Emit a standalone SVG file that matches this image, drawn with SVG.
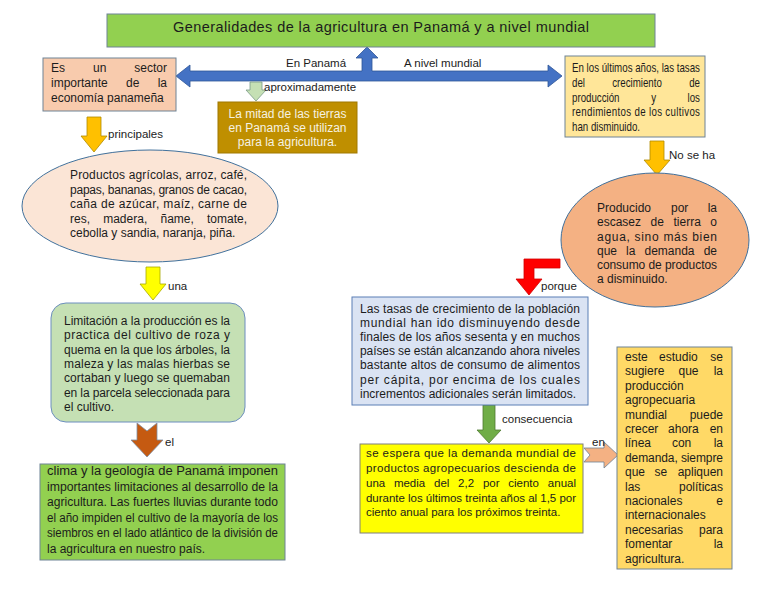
<svg xmlns="http://www.w3.org/2000/svg" width="768" height="594" viewBox="0 0 768 594">
<style>
text{font-family:"Liberation Sans",Arial,Helvetica,sans-serif;font-size:12px;fill:#1c1c1c}
.s{font-size:11.5px}
.lb{font-size:11.5px}
.w{fill:#f6f2e2}
.e{text-anchor:end}
.m{text-anchor:middle}
.bx{stroke:#6f8396;stroke-width:1}
.ar{stroke-width:0.8}
</style>
<rect width="768" height="594" fill="#ffffff"/>

<g id="connectors">
<polygon class="ar" fill="#4472c4" stroke="#2f5597" points="176,76 190,65 190,71 362,71 362,58 356,58 367,47 378,58 372,58 372,71 548,71 548,65 562,76 548,87 548,81 190,81 190,87"/>
<polygon class="ar" fill="#c5e0b4" stroke="#7a9a88" points="250,82 262,82 262,90 266,90 256,101 246,90 250,90"/>
<polygon class="ar" fill="#ffc000" stroke="#b08a00" points="87,117 101,117 101,136 107,136 94,152 81,136 87,136"/>
<polygon class="ar" fill="#ffff00" stroke="#a8a800" points="146,267 160,267 160,284 166,284 153,300 140,284 146,284"/>
<polygon class="ar" fill="#ffc000" stroke="#b08a00" points="650,141 664,141 664,160 670,160 657,175 644,160 650,160"/>
<polygon class="ar" fill="#c55a11" stroke="#7f8fa6" points="137,423 147,431 157,423 157,440 163,440 147,457 131,440 137,440"/>
<polygon class="ar" fill="#ff0000" stroke="#d00000" points="524,259 560,259 560,268 534,268 534,279 542,279 529,295 516,279 524,279"/>
<polygon class="ar" fill="#70ad47" stroke="#4e7a31" points="483,405 495,405 495,430 501,430 489,443 477,430 483,430"/>
<polygon class="ar" fill="#f4b183" stroke="#6f8396" points="584,448 604,448 604,442 618,455 604,468 604,462 584,462 590,455"/>
<text class="lb" x="286" y="67">En Panamá</text>
<text class="lb" x="404" y="67">A nivel mundial</text>
<text class="lb" x="264" y="91">aproximadamente</text>
<text class="lb" x="108" y="138">principales</text>
<text class="lb" x="669" y="159">No se ha</text>
<text class="lb" x="168" y="290">una</text>
<text class="lb" x="165" y="446">el</text>
<text class="lb" x="541" y="290">porque</text>
<text class="lb" x="502" y="423">consecuencia</text>
<text class="lb" x="592" y="446">en</text>
</g>

<g id="title">
<rect class="bx" x="107" y="14" width="548" height="33" fill="#92d050"/>
<text x="173" y="32" style="font-size:14.5px" textLength="416" lengthAdjust="spacing">Generalidades de la agricultura en Panamá y a nivel mundial</text>
</g>

<g id="sector">
<rect class="bx" x="43" y="58" width="133" height="53" fill="#f8cbad"/>
<text x="51" y="72">Es</text><text x="93" y="72">un</text><text class="e" x="167" y="72">sector</text>
<text x="51" y="87">importante</text><text x="126" y="87">de</text><text class="e" x="167" y="87">la</text>
<text x="51" y="102">economía panameña</text>
</g>

<g id="mitad">
<rect x="218" y="102" width="139" height="51" fill="#bf8f00" stroke="#a07800"/>
<text class="w m" x="287.5" y="118">La mitad de las tierras</text>
<text class="w m" x="287.5" y="132">en Panamá se utilizan</text>
<text class="w m" x="287.5" y="146">para la agricultura.</text>
</g>

<g id="tasas">
<rect class="bx" x="565" y="56" width="140" height="81" fill="#ffe699"/>
<g transform="matrix(0.81 0 0 1 108.68 0)">
<text x="572" y="72" textLength="158" lengthAdjust="spacing">En los últimos años, las tasas</text>
<text x="572" y="87">del</text><text x="621.6" y="87">crecimiento</text><text class="e" x="730" y="87">de</text>
<text x="572" y="102">producción</text><text x="669.7" y="102">y</text><text class="e" x="730" y="102">los</text>
<text x="572" y="116" textLength="158" lengthAdjust="spacing">rendimientos de los cultivos</text>
<text x="572" y="131">han disminuido.</text>
</g>
</g>

<g id="productos">
<ellipse cx="150" cy="206" rx="128" ry="56" fill="#fbe5d6" stroke="#41719c"/>
<text x="70" y="179" textLength="177" lengthAdjust="spacing">Productos agrícolas, arroz, café,</text>
<text x="70" y="194" textLength="177" lengthAdjust="spacing">papas, bananas, granos de cacao,</text>
<text x="70" y="208" textLength="177" lengthAdjust="spacing">caña de azúcar, maíz, carne de</text>
<text x="70" y="223">res,</text><text x="103.2" y="223">madera,</text><text x="160.5" y="223">ñame,</text><text class="e" x="247" y="223">tomate,</text>
<text x="70" y="237">cebolla y sandia, naranja, piña.</text>
</g>

<g id="producido">
<ellipse cx="655" cy="240" rx="94" ry="67" fill="#f4b183" stroke="#41719c"/>
<text x="597" y="212">Producido</text><text x="671" y="212">por</text><text class="e" x="717" y="212">la</text>
<text x="597" y="226">escasez</text><text x="650.6" y="226">de</text><text x="673.5" y="226">tierra</text><text class="e" x="717" y="226">o</text>
<text x="597" y="241" textLength="120" lengthAdjust="spacing">agua, sino más bien</text>
<text x="597" y="255">que</text><text x="626.1" y="255">la</text><text x="644.5" y="255">demanda</text><text class="e" x="717" y="255">de</text>
<text x="597" y="269" textLength="120" lengthAdjust="spacing">consumo de productos</text>
<text x="597" y="283">a disminuido.</text>
</g>

<g id="limitacion">
<rect x="51" y="303" width="194" height="119" rx="15" fill="#c5e0b4" stroke="#6c8ebf"/>
<text x="64" y="325" textLength="166" lengthAdjust="spacing">Limitación a la producción es la</text>
<text x="64" y="339.3" textLength="166" lengthAdjust="spacing">practica del cultivo de roza y</text>
<text x="64" y="353.6" textLength="166" lengthAdjust="spacing">quema en la que los árboles, la</text>
<text x="64" y="368" textLength="166" lengthAdjust="spacing">maleza y las malas hierbas se</text>
<text x="64" y="382.3" textLength="166" lengthAdjust="spacing">cortaban y luego se quemaban</text>
<text x="64" y="396.6" textLength="166" lengthAdjust="spacing">en la parcela seleccionada para</text>
<text x="64" y="411">el cultivo.</text>
</g>

<g id="clima">
<rect class="bx" x="40" y="464" width="245" height="96" fill="#92d050"/>
<text x="47" y="475" textLength="231" lengthAdjust="spacingAndGlyphs">clima y la geología de Panamá imponen</text>
<text x="47" y="490.5" textLength="231" lengthAdjust="spacingAndGlyphs">importantes limitaciones al desarrollo de la</text>
<text x="47" y="506" textLength="231" lengthAdjust="spacingAndGlyphs">agricultura. Las fuertes lluvias durante todo</text>
<text x="47" y="521.5" textLength="231" lengthAdjust="spacingAndGlyphs">el año impiden el cultivo de la mayoría de los</text>
<text x="47" y="537" textLength="231" lengthAdjust="spacingAndGlyphs">siembros en el lado atlántico de la división de</text>
<text x="47" y="552.5">la agricultura en nuestro país.</text>
</g>

<g id="poblacion">
<rect x="352" y="297" width="236" height="108" fill="#dae3f3" stroke="#5b7fb5"/>
<text x="360" y="312.5" textLength="220" lengthAdjust="spacing">Las tasas de crecimiento de la población</text>
<text x="360" y="326.7" textLength="220" lengthAdjust="spacing">mundial han ido disminuyendo desde</text>
<text x="360" y="340.9" textLength="220" lengthAdjust="spacing">finales de los años sesenta y en muchos</text>
<text x="360" y="355.1" textLength="220" lengthAdjust="spacing">países se están alcanzando ahora niveles</text>
<text x="360" y="369.3" textLength="220" lengthAdjust="spacing">bastante altos de consumo de alimentos</text>
<text x="360" y="383.5" textLength="220" lengthAdjust="spacing">per cápita, por encima de los cuales</text>
<text x="360" y="397.7">incrementos adicionales serán limitados.</text>
</g>

<g id="demanda">
<rect x="360" y="444" width="223" height="89" fill="#ffff00" stroke="#7f7f7f"/>
<text class="s" x="366" y="457" textLength="210" lengthAdjust="spacing">se espera que la demanda mundial de</text>
<text class="s" x="366" y="472" textLength="210" lengthAdjust="spacing">productos agropecuarios descienda de</text>
<text class="s" y="487"><tspan x="366">una</tspan><tspan x="393.9">media</tspan><tspan x="434">del</tspan><tspan x="458.1">2,2</tspan><tspan x="482.9">por</tspan><tspan x="508.2">ciento</tspan></text><text class="s e" x="576" y="487">anual</text>
<text class="s" x="366" y="502" textLength="210" lengthAdjust="spacing">durante los últimos treinta años al 1,5 por</text>
<text class="s" x="366" y="516">ciento anual para los próximos treinta.</text>
</g>

<g id="estudio">
<rect class="bx" x="617" y="347" width="115" height="222" fill="#ffd966"/>
<text x="625" y="361">este</text><text x="659.1" y="361">estudio</text><text class="e" x="723" y="361">se</text>
<text x="625" y="375.4">sugiere</text><text x="678.5" y="375.4">que</text><text class="e" x="723" y="375.4">la</text>
<text x="625" y="389.8">producción</text>
<text x="625" y="404.2">agropecuaria</text>
<text x="625" y="418.6">mundial</text><text class="e" x="723" y="418.6">puede</text>
<text x="625" y="433">crecer</text><text x="668.1" y="433">ahora</text><text class="e" x="723" y="433">en</text>
<text x="625" y="447.4">línea</text><text x="671.9" y="447.4">con</text><text class="e" x="723" y="447.4">la</text>
<text x="625" y="461.8" textLength="98" lengthAdjust="spacing">demanda, siempre</text>
<text x="625" y="476.2">que</text><text x="654.4" y="476.2">se</text><text class="e" x="723" y="476.2">apliquen</text>
<text x="625" y="490.6">las</text><text class="e" x="723" y="490.6">políticas</text>
<text x="625" y="505">nacionales</text><text class="e" x="723" y="505">e</text>
<text x="625" y="519.4">internacionales</text>
<text x="625" y="533.8">necesarias</text><text class="e" x="723" y="533.8">para</text>
<text x="625" y="548.2">fomentar</text><text class="e" x="723" y="548.2">la</text>
<text x="625" y="562.6">agricultura.</text>
</g>
</svg>
